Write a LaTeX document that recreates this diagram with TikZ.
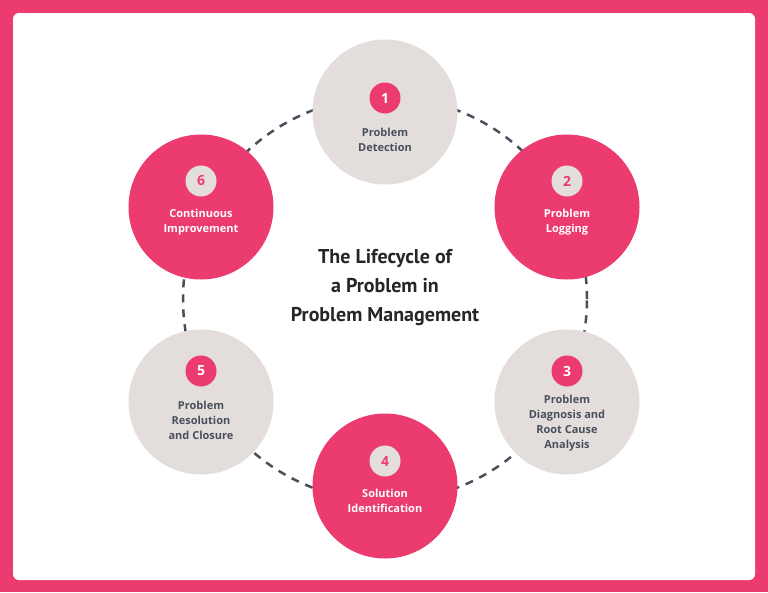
\documentclass[tikz,border=0pt]{standalone}
\usepackage{fontspec}
\setmainfont{Open Sans}
\newfontfamily\titlefont{Roboto Condensed}[UprightFont=*]
\newfontfamily\tfont{PT Sans}
\definecolor{pinkc}{HTML}{EC3B6E}
\definecolor{grayc}{HTML}{E3DEDB}
\definecolor{txt}{HTML}{4A4F5C}
\definecolor{ring}{HTML}{4A4F5C}
\begin{document}
\begin{tikzpicture}[x=1pt,y=-1pt,
  pc/.style={circle,fill=pinkc,minimum size=145pt,inner sep=0},
  gc/.style={circle,fill=grayc,minimum size=145pt,inner sep=0},
  pb/.style={circle,fill=pinkc,minimum size=31pt,inner sep=0,text=white,font=\bfseries\fontsize{14}{14}\selectfont},
  gb/.style={circle,fill=grayc,minimum size=31pt,inner sep=0,text=pinkc,font=\bfseries\fontsize{14}{14}\selectfont},
  gl/.style={align=center,text=txt,font=\bfseries\fontsize{11}{15}\selectfont},
  pl/.style={align=center,text=white,font=\bfseries\fontsize{11}{15}\selectfont}]
\fill[pinkc] (0,0) rectangle (768,592);
\fill[white,rounded corners=6pt] (13,13) rectangle (755,580);
\node[circle,minimum size=404pt,inner sep=0] (ring) at (385,299) {};
\draw[ring,line width=2.5pt,dash pattern=on 8pt off 7pt] (ring.center) circle (202pt);
\node[gc] (c1) at (385,112) {};
\node[pc] (c2) at (567,207) {};
\node[gc] (c3) at (567,402) {};
\node[pc] (c4) at (385,486) {};
\node[gc] (c5) at (201,402) {};
\node[pc] (c6) at (201,207) {};
\node[pb] (b1) at (385,98) {1};
\node[gb] (b2) at (567,181) {2};
\node[pb] (b3) at (567,371) {3};
\node[gb] (b4) at (385,461) {4};
\node[pb] (b5) at (201,371) {5};
\node[gb] (b6) at (201,181) {6};
\node[gl] (l1) at (385,140) {Problem\\Detection};
\node[pl] (l2) at (567,222) {Problem\\Logging};
\node[gl] (l3) at (567,423) {Problem\\Diagnosis and\\Root Cause\\Analysis};
\node[pl] (l4) at (385,501) {Solution\\Identification};
\node[gl] (l5) at (201,420) {Problem\\Resolution\\and Closure};
\node[pl] (l6) at (201,222) {Continuous\\Improvement};
\node[align=center,text=black!85,font=\tfont\bfseries\fontsize{20}{29}\selectfont] (t) at (385,288) {The Lifecycle of\\a Problem in\\Problem Management};
\end{tikzpicture}
\end{document}
